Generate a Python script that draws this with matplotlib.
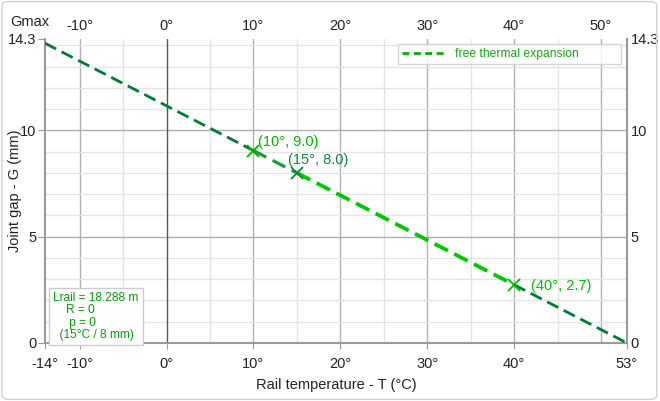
import matplotlib.pyplot as plt
from matplotlib.patches import FancyBboxPatch

plt.rcParams['font.family'] = ['Liberation Sans', 'DejaVu Sans']

# data
temps = [-14, 10, 15, 40, 53]
gaps = [14.1, 9.05, 8.0, 2.74, 0.0]
pts_t = [10, 15, 40]
pts_g = [9.05, 8.0, 2.74]
pt_labels = ["(10°, 9.0)", "(15°, 8.0)", "(40°, 2.7)"]
bottom_ticks = [-14, -10, 0, 10, 20, 30, 40, 53]
top_ticks = [-10, 0, 10, 20, 30, 40, 50]
y_ticks = [0, 5, 10, 14.3]
y_labels = ["0", "5", "10", "14.3"]

# style
pt_colors = ["#00b400", "#0a8a3a", "#00c000"]
pt_offsets = [(3.6, 6.5), (-6.5, 9.4), (12.2, -1.0)]
dark = "#007a35"
bright = "#00c800"
txt = "#222222"
fs = 10.5
dash = (0, (4.5, 2.2))

fig = plt.figure(figsize=(6.6, 4.01), dpi=100)
ax = fig.add_axes([45 / 660, 58 / 401, 582 / 660, 304 / 401])
ax.set_xlim(-14, 53)
ax.set_ylim(0, 14.3)

# grid
for v in range(-10, 55, 5):
    if v == 0:
        continue
    ax.axvline(v, color="#b0b0b0" if v % 10 == 0 else "#e4e4e4", lw=1, zorder=0)
for v in range(1, 15):
    ax.axhline(v, color="#b0b0b0" if v % 5 == 0 else "#e4e4e4", lw=1, zorder=0)
ax.axvline(0, color="#555555", lw=1, zorder=1)

# line: dark outer parts, brighter middle part
ax.plot(temps[:2], gaps[:2], color=dark, lw=2, ls=dash, zorder=3,
        label="free thermal expansion")
ax.plot(temps[3:], gaps[3:], color=dark, lw=2, ls=dash, zorder=3)
ax.plot(temps[1:3], gaps[1:3], color="#1a9a40", lw=2.3, ls=dash, zorder=4)
ax.plot(temps[2:4], gaps[2:4], color=bright, lw=2.7, ls=(0, (4, 1.9)), zorder=4)

for t, g, lab, c, off in zip(pts_t, pts_g, pt_labels, pt_colors, pt_offsets):
    ax.plot(t, g, marker="x", ms=8, mew=1.3, color=c, zorder=5)
    ax.annotate(lab, (t, g), xytext=off, textcoords="offset points",
                color=c, fontsize=fs, ha="left", va="center")

# spines
for s in ["left", "bottom", "right"]:
    ax.spines[s].set_color("#999999")
    ax.spines[s].set_linewidth(1.5)
ax.spines["top"].set_visible(False)

ax.set_xticks(bottom_ticks)
ax.set_xticklabels([f"{t}°" for t in bottom_ticks])
ax.set_yticks(y_ticks)
ax.set_yticklabels(y_labels)
ax.tick_params(axis="x", length=4.5, color="#999999", labelsize=fs,
               labelcolor=txt, pad=5.5)
ax.tick_params(axis="y", length=5, color="#999999", labelsize=fs,
               labelcolor=txt, pad=1)

top = ax.secondary_xaxis("top")
top.set_xticks(top_ticks)
top.set_xticklabels([f"{t}°" for t in top_ticks])
top.tick_params(length=0, labelsize=fs, labelcolor=txt, pad=4)
top.spines["top"].set_visible(False)

right = ax.secondary_yaxis("right")
right.set_yticks(y_ticks)
right.set_yticklabels(y_labels)
right.tick_params(length=0, labelsize=fs, labelcolor=txt, pad=2.5)
right.spines["right"].set_visible(False)

ax.set_xlabel("Rail temperature - T (°C)", fontsize=fs, color=txt)
ax.xaxis.set_label_coords(0.5, -(378 - 343) / 304)
ax.set_ylabel("Joint gap - G (mm)", fontsize=fs, color=txt)
ax.yaxis.set_label_coords((22 - 45) / 582, 0.5)
fig.text(10 / 660, 1 - 22 / 401, "Gmax", fontsize=fs, color=txt,
         ha="left", va="center")

leg = ax.legend(loc="upper left", bbox_to_anchor=(0.6065, 0.9, 0.383, 0.0836),
                mode="expand", borderaxespad=0, fontsize=8.7, frameon=True,
                fancybox=False, handlelength=3.6, handletextpad=0.75,
                borderpad=0.35, labelcolor="#11aa11")
leg.get_frame().set_edgecolor("#cccccc")
leg.get_frame().set_linewidth(1)
leg.get_lines()[0].set_color("#00b000")
leg.get_lines()[0].set_linestyle((0, (2.5, 1.6)))

ax.text((53 - 45) / 582, 0.006,
        "Lrail = 18.288 m\n    R = 0\n     p = 0\n  (15°C / 8 mm)",
        transform=ax.transAxes, fontsize=8.6, color="#00a000",
        ha="left", va="bottom", ma="left", linespacing=1.05, zorder=6,
        bbox=dict(boxstyle="square,pad=0.35", fc="white", ec="#cccccc", lw=1))

fig.patches.append(FancyBboxPatch((0.003, 0.004), 0.992, 0.992,
                                  boxstyle="round,pad=0,rounding_size=0.01",
                                  transform=fig.transFigure, fc="none",
                                  ec="#d0d0d0", lw=1))

fig.savefig("out.png", dpi=100)
